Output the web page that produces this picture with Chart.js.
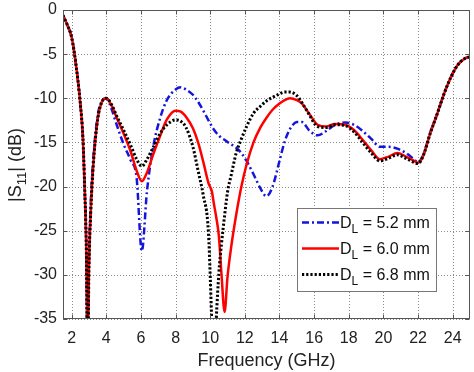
<!DOCTYPE html>
<html>
<head>
<meta charset="utf-8">
<script src="https://cdn.jsdelivr.net/npm/chart.js@4/dist/chart.umd.min.js"></script>
<style>
  html, body { margin: 0; padding: 0; background: #fff; }
  canvas { display: block; }
</style>
</head>
<body>
<canvas id="c" width="474" height="372"></canvas>
<script>
// ---- data ----
const freq = [1.5, 1.75, 2.0, 2.25, 2.5, 2.65, 2.75, 2.85, 2.92, 3.0, 3.1, 3.25, 3.5, 3.75, 4.0,
  4.3, 4.6, 5.0, 5.4, 5.75, 6.05, 6.35, 6.7, 7.1, 7.5, 8.0, 8.3, 8.6, 9.0, 9.3, 9.6, 9.9,
  10.1, 10.2, 10.35, 10.5, 10.65, 10.83, 11.0, 11.2, 11.5, 11.8, 12.1, 12.5, 12.9, 13.25, 13.6,
  14.0, 14.3, 14.6, 15.0, 15.3, 15.7, 16.2, 16.7, 17.2, 17.8, 18.3, 18.8, 19.3, 19.8, 20.3,
  20.8, 21.3, 21.7, 22.0, 22.3, 22.7, 23.1, 23.5, 23.9, 24.3, 24.7, 25.0];

const s11_52 = [-0.6, -1.7, -3.1, -6.2, -10.6, -14.5, -20, -27.5, -40, -28, -22, -16.8, -12.0, -10.3, -10.0,
  -11.2, -13.0, -15.2, -17.0, -19.0, -27.3, -20.5, -15.6, -12.3, -10.2, -9.0, -8.75, -9.0, -9.6, -10.4, -11.4, -12.5,
  -13.2, -13.5, -13.9, -14.2, -14.5, -14.7, -14.95, -15.2, -15.6, -16.2, -17.1, -18.6, -20.2, -21.1, -20.0,
  -17.1, -14.9, -13.5, -12.7, -12.7, -13.6, -14.2, -13.7, -13.0, -12.75, -13.0, -13.7, -14.6, -15.5, -15.5,
  -15.7, -16.2, -16.8, -17.25, -16.4, -13.9, -11.8, -9.5, -7.6, -6.2, -5.5, -5.3];

const s11_60 = [-0.6, -1.7, -3.1, -6.2, -10.6, -14.5, -20, -27.5, -40, -29, -23, -17.5, -12.4, -10.4, -10.0,
  -10.8, -12.2, -14.0, -16.0, -18.2, -19.4, -18.4, -16.4, -14.3, -12.4, -11.4, -11.5, -12.1, -13.4, -15.0, -17.2, -19.6,
  -20.6, -21.8, -23.5, -25.6, -29.9, -34.2, -30.2, -27.0, -23.2, -20.0, -17.5, -15.0, -13.3, -12.2, -11.3,
  -10.6, -10.2, -10.0, -10.2, -10.6, -11.7, -13.0, -13.2, -12.9, -13.0, -13.6, -14.7, -15.9, -16.9, -16.6,
  -16.2, -16.6, -17.0, -17.3, -16.5, -14.0, -11.8, -9.5, -7.6, -6.2, -5.5, -5.3];

const s11_68 = [-0.6, -1.7, -3.1, -6.2, -10.6, -14.5, -20, -27.5, -40, -29, -23, -17.5, -12.4, -10.4, -10.0,
  -10.7, -12.0, -13.6, -15.3, -16.9, -17.7, -16.9, -15.6, -14.0, -13.0, -12.45, -12.6, -13.3, -15.5, -18.2, -21.0, -25.3,
  -36.0, -42.0, -35.0, -29.8, -26.5, -23.3, -20.6, -18.8, -16.2, -14.6, -13.2, -11.7, -10.9, -10.3, -9.9,
  -9.5, -9.3, -9.3, -9.7, -10.5, -11.8, -13.2, -13.3, -13.0, -13.1, -13.8, -15.0, -16.2, -17.1, -16.8,
  -16.4, -16.8, -17.2, -17.4, -16.5, -14.0, -11.8, -9.5, -7.6, -6.2, -5.5, -5.3];

const seriesValues = ['5.2', '6.0', '6.8'];
const xTicks = [2, 4, 6, 8, 10, 12, 14, 16, 18, 20, 22, 24];
const yTicks = [0, -5, -10, -15, -20, -25, -30, -35];

const FONT = '"Liberation Sans", Arial, sans-serif';
const BLUE = '#1414dc', RED = '#ff0000', BLACK = '#000000';
const styles = [
  { color: BLUE, width: 2.5, dash: [7, 3, 2, 3] },
  { color: RED, width: 2.5, dash: [] },
  { color: BLACK, width: 3, dash: [2.2, 2] }
];

const toPts = arr => freq.map((f, i) => ({ x: f, y: arr[i] }));

const framePlugin = {
  id: 'frame',
  beforeDatasetsDraw(chart) {
    const { ctx, chartArea: a, scales } = chart;
    ctx.save();
    ctx.strokeStyle = '#8a8a8a';
    ctx.lineWidth = 1;
    ctx.setLineDash([1, 2]);
    xTicks.forEach(v => {
      const x = Math.round(scales.x.getPixelForValue(v)) + 0.5;
      ctx.beginPath(); ctx.moveTo(x, a.top); ctx.lineTo(x, a.bottom); ctx.stroke();
    });
    yTicks.forEach(v => {
      const y = Math.round(scales.y.getPixelForValue(v)) + 0.5;
      ctx.beginPath(); ctx.moveTo(a.left, y); ctx.lineTo(a.right, y); ctx.stroke();
    });
    ctx.restore();
  },
  afterDatasetsDraw(chart) {
    const { ctx, chartArea: a, scales } = chart;
    ctx.save();
    ctx.strokeStyle = '#555555';
    ctx.lineWidth = 1;
    ctx.setLineDash([]);
    const L = Math.round(a.left) + 0.5, R = Math.round(a.right) - 0.5;
    const T = Math.round(a.top) + 0.5, B = Math.round(a.bottom) - 0.5;
    ctx.strokeRect(L, T, R - L, B - T);
    xTicks.forEach(v => {
      const x = Math.round(scales.x.getPixelForValue(v)) + 0.5;
      ctx.beginPath(); ctx.moveTo(x, B); ctx.lineTo(x, B - 4);
      ctx.moveTo(x, T); ctx.lineTo(x, T + 4); ctx.stroke();
    });
    yTicks.forEach(v => {
      const y = Math.round(scales.y.getPixelForValue(v)) + 0.5;
      ctx.beginPath(); ctx.moveTo(L, y); ctx.lineTo(L + 4, y);
      ctx.moveTo(R, y); ctx.lineTo(R - 4, y); ctx.stroke();
    });

    // y-axis title |S11| (dB)
    ctx.fillStyle = '#222';
    ctx.textBaseline = 'alphabetic';
    ctx.translate(21, 165);
    ctx.rotate(-Math.PI / 2);
    const big = '18px ' + FONT, small = '13px ' + FONT;
    ctx.font = big; const w1 = ctx.measureText('|S').width;
    ctx.font = small; const w2 = ctx.measureText('11').width;
    ctx.font = big; const w3 = ctx.measureText('| (dB)').width;
    let x0 = -(w1 + w2 + w3) / 2;
    ctx.font = big; ctx.fillText('|S', x0, 0);
    ctx.font = small; ctx.fillText('11', x0 + w1, 5);
    ctx.font = big; ctx.fillText('| (dB)', x0 + w1 + w2, 0);
    ctx.restore();

    // x-axis title
    ctx.save();
    ctx.fillStyle = '#222';
    ctx.font = '18px ' + FONT;
    ctx.textAlign = 'center';
    ctx.textBaseline = 'middle';
    ctx.fillText('Frequency (GHz)', (a.left + a.right) / 2, 361);
    ctx.restore();

    // legend
    ctx.save();
    const bx = 297.5, by = 208.5, bw = 139, bh = 83;
    ctx.fillStyle = '#fff';
    ctx.fillRect(bx, by, bw, bh);
    ctx.strokeStyle = '#777';
    ctx.lineWidth = 1;
    ctx.strokeRect(bx, by, bw, bh);
    const rows = [222.5, 248.5, 274.5];
    seriesValues.forEach((val, i) => {
      const st = styles[i];
      ctx.strokeStyle = st.color;
      ctx.lineWidth = st.width;
      ctx.setLineDash(st.dash);
      ctx.beginPath(); ctx.moveTo(302, rows[i]); ctx.lineTo(339, rows[i]); ctx.stroke();
      ctx.setLineDash([]);
      ctx.fillStyle = '#111';
      ctx.textBaseline = 'alphabetic';
      ctx.font = '16px ' + FONT;
      const tx = 340, ty = rows[i] + 5.5;
      ctx.fillText('D', tx, ty);
      const dw = ctx.measureText('D').width;
      ctx.font = '12px ' + FONT;
      ctx.fillText('L', tx + dw, ty + 5);
      const lw = ctx.measureText('L').width;
      ctx.font = '16px ' + FONT;
      ctx.fillText(' = ' + val + ' mm', tx + dw + lw, ty);
    });
    ctx.restore();
  }
};

new Chart(document.getElementById('c'), {
  type: 'line',
  data: {
    datasets: [
      { label: 'D_L = ' + seriesValues[0] + ' mm', data: toPts(s11_52), borderColor: styles[0].color,
        borderWidth: styles[0].width, borderDash: styles[0].dash, order: 2 },
      { label: 'D_L = ' + seriesValues[1] + ' mm', data: toPts(s11_60), borderColor: styles[1].color,
        borderWidth: styles[1].width, borderDash: styles[1].dash, order: 1 },
      { label: 'D_L = ' + seriesValues[2] + ' mm', data: toPts(s11_68), borderColor: styles[2].color,
        borderWidth: styles[2].width, borderDash: styles[2].dash, order: 0 }
    ]
  },
  options: {
    responsive: false,
    animation: false,
    devicePixelRatio: 1,
    layout: { padding: { top: 10, right: 4, left: 0, bottom: 0 } },
    elements: {
      point: { radius: 0 },
      line: { cubicInterpolationMode: 'monotone', fill: false, borderCapStyle: 'butt', borderJoinStyle: 'round' }
    },
    plugins: { legend: { display: false }, tooltip: { enabled: false } },
    scales: {
      x: {
        type: 'linear', min: 1.5, max: 25,
        afterBuildTicks: s => { s.ticks = xTicks.map(v => ({ value: v })); },
        afterFit: s => { s.height = 53; },
        grid: { display: false, drawTicks: false },
        border: { display: false },
        ticks: { font: { size: 16, family: FONT }, color: '#222', padding: 10, maxRotation: 0 }
      },
      y: {
        type: 'linear', min: -35, max: 0,
        afterBuildTicks: s => { s.ticks = yTicks.map(v => ({ value: v })); },
        afterFit: s => { s.width = 63; },
        grid: { display: false, drawTicks: false },
        border: { display: false },
        ticks: { font: { size: 16, family: FONT, lineHeight: 0.5 }, color: '#222', padding: 6 }
      }
    }
  },
  plugins: [framePlugin]
});
</script>
</body>
</html>
